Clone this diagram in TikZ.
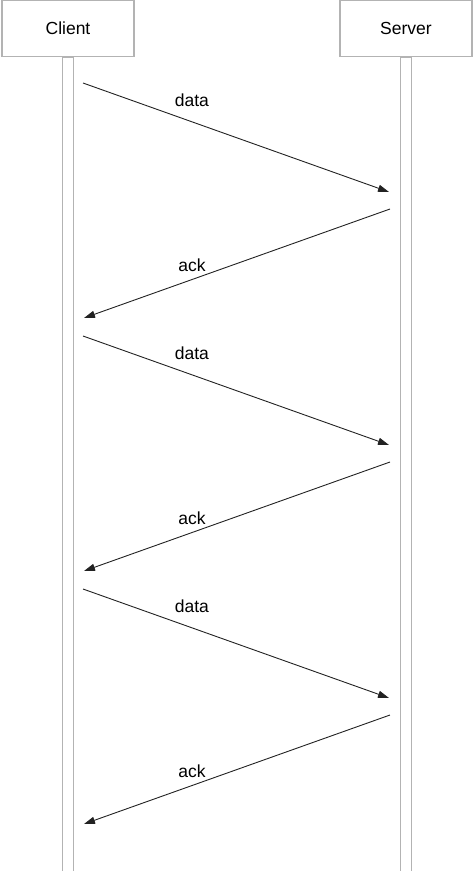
\documentclass[tikz,border=0pt]{standalone}
\usepackage{fontspec}
\setmainfont{Liberation Sans}
\usetikzlibrary{positioning, arrows.meta}
\definecolor{linegray}{HTML}{B3B3B3}
\definecolor{msgline}{HTML}{222222}

\begin{document}
\begin{tikzpicture}[
        x=1pt, y=-1pt,
        font=\fontsize{17.5}{21}\selectfont,
        actor/.style={rectangle, draw=linegray, line width=1.2pt, fill=white, minimum width=132pt, minimum height=56pt, align=center},
        lifeline/.style={rectangle, draw=linegray, line width=1.2pt, minimum width=11pt, minimum height=814pt},
        msg/.style={-{Triangle[length=11pt, width=7pt]}, line width=0.9pt, draw=msgline},
        lbl/.style={inner sep=0pt}
    ]
        \useasboundingbox (0,0) rectangle (474,871);

        % Nodes
        \node [actor] (client) at (68,28.5) {Client};
        \node [actor] (server) at (406,28.5) {Server};
        \node [lifeline, below=0pt of client] (clientline) {};
        \node [lifeline, below=0pt of server] (serverline) {};

        % Message ends
        \coordinate (c1) at (83,83);   \coordinate (s1) at (389,192);
        \coordinate (s2) at (390,209); \coordinate (c2) at (84,318);
        \coordinate (c3) at (83,336);  \coordinate (s3) at (389,445);
        \coordinate (s4) at (390,462); \coordinate (c4) at (84,571);
        \coordinate (c5) at (83,589);  \coordinate (s5) at (389,698);
        \coordinate (s6) at (390,715); \coordinate (c6) at (84,824);

        % Edges
        \draw [msg] (c1) -- node[lbl, pos=0.356, above=15pt] {data} (s1);
        \draw [msg] (s2) -- node[lbl, pos=0.647, above=7pt] {ack} (c2);
        \draw [msg] (c3) -- node[lbl, pos=0.356, above=15pt] {data} (s3);
        \draw [msg] (s4) -- node[lbl, pos=0.647, above=7pt] {ack} (c4);
        \draw [msg] (c5) -- node[lbl, pos=0.356, above=15pt] {data} (s5);
        \draw [msg] (s6) -- node[lbl, pos=0.647, above=7pt] {ack} (c6);

    \end{tikzpicture}
\end{document}
